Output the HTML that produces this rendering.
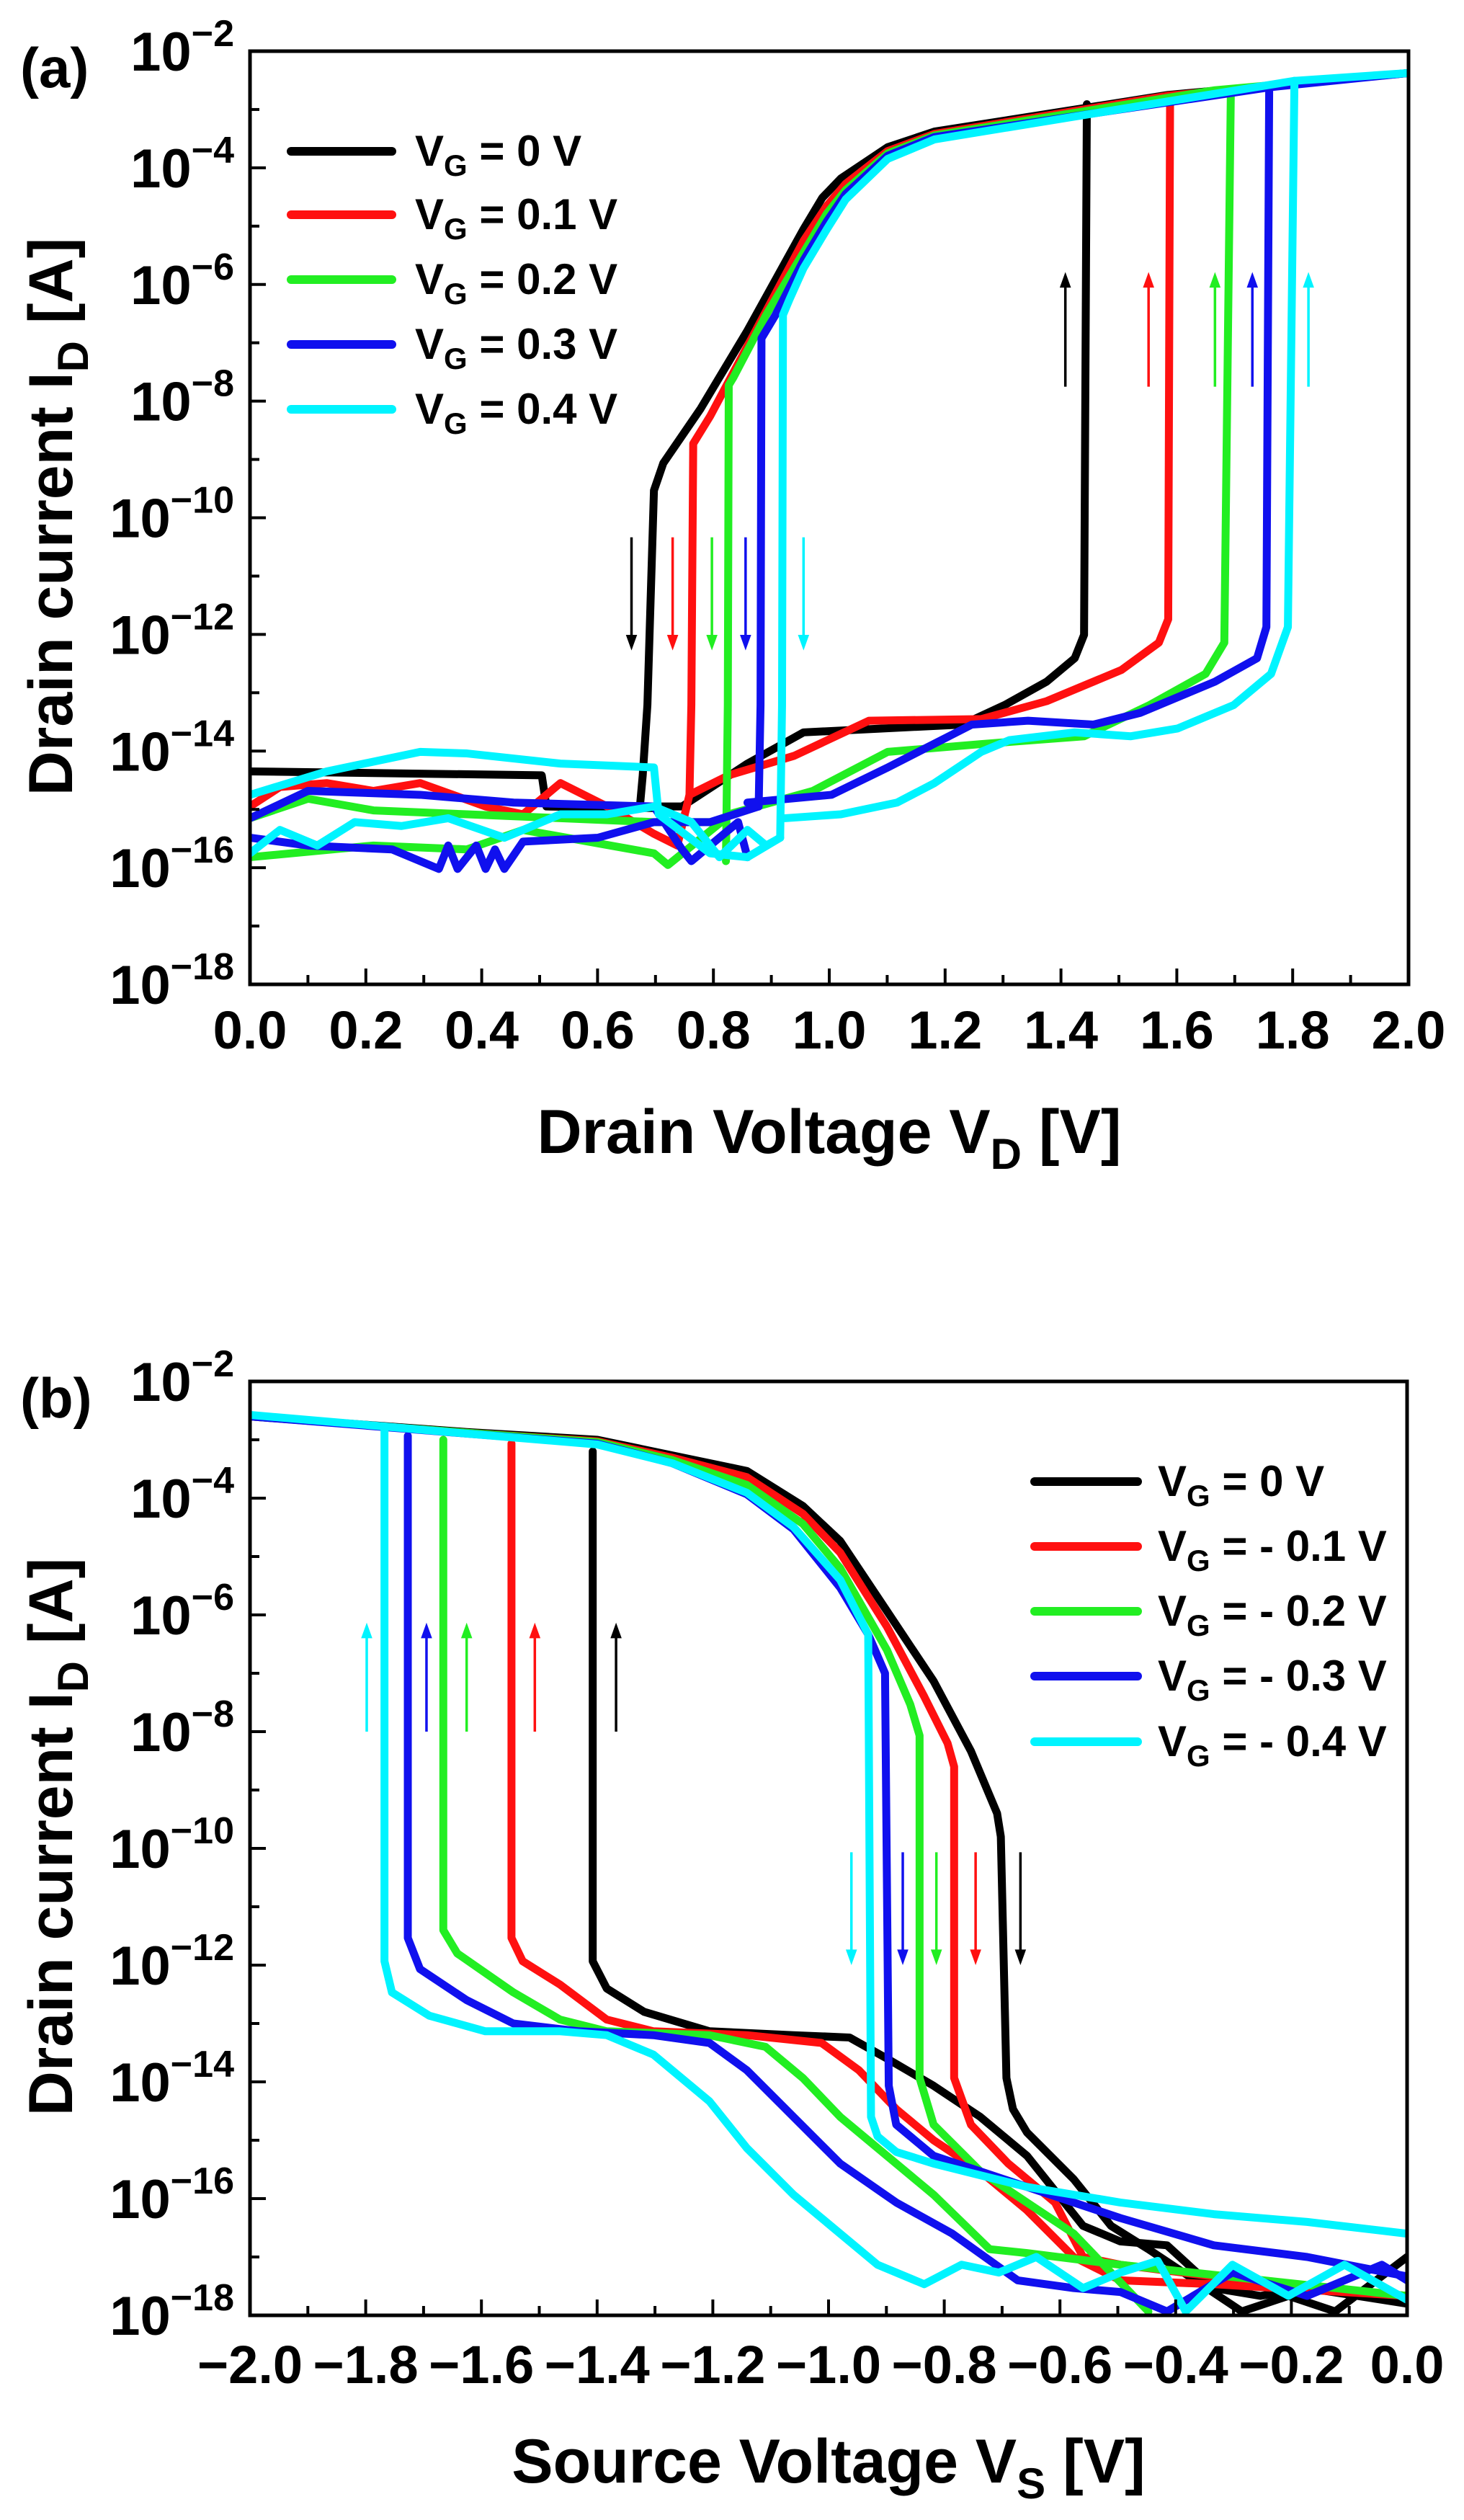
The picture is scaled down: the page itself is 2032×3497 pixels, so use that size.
<!DOCTYPE html>
<html><head><meta charset="utf-8"><style>
html,body{margin:0;padding:0;background:#fff;}
svg{display:block;font-family:"Liberation Sans",Arial,sans-serif;font-weight:bold;}
</style></head><body>
<svg id="s" width="2032" height="3497" viewBox="0 0 2032 3497" xmlns="http://www.w3.org/2000/svg">
<defs>
<clipPath id="ca"><rect x="347" y="71" width="1608" height="1295"/></clipPath>
<clipPath id="cb"><rect x="347" y="1917" width="1606" height="1296"/></clipPath>
</defs>
<g id="ga" clip-path="url(#ca)"><g id="ta" transform="translate(-0.8,3.9) scale(1.2978,1.0828)"></g></g>
<g id="gb" clip-path="url(#cb)"><g id="tb" transform="translate(-0.4,1803.6) scale(1.2962,1.08)"></g></g>
<g id="axes"></g>
</svg>
<script>
var NS="http://www.w3.org/2000/svg";
function el(p,t,a,txt){var e=document.createElementNS(NS,t);for(var k in a)e.setAttribute(k,a[k]);if(txt!==undefined)e.textContent=txt;p.appendChild(e);return e;}
var C={k:"#000",r:"#ff1010",g:"#22ee22",b:"#1010ee",c:"#00f4ff"};
function line(g,col,pts){el(g,"polyline",{points:pts,fill:"none",stroke:col,"stroke-width":11,"stroke-linejoin":"round","stroke-linecap":"round","vector-effect":"non-scaling-stroke"});}
var ta=document.getElementById("ta"),tb=document.getElementById("tb");
// panel a
var A=[
["k","1507,90 1250,118 1160,135 1000,165 950,185 900,225 880,250 860,290 800,420 750,520 710,590 700,625 693,900 688,990 685,1030"],
["k","268,985 580,990 585,1030 700,1032"],
["k","700,1030 730,1030 800,975 860,935 1030,925 1075,900 1120,870 1150,840 1160,810 1163,130"],
["r","1507,90 1250,119 1000,168 950,190 905,232 885,260 860,305 800,440 760,530 742,565 740,900 738,1015"],
["r","268,1030 300,1005 350,1000 400,1010 450,1000 520,1030 560,1040 600,1000 650,1030 700,1065 725,1080 738,1015"],
["r","738,1015 780,990 850,965 930,920 1050,918 1120,895 1200,855 1240,820 1250,790 1252,120"],
["g","1507,90 1300,112 1000,170 950,193 905,240 885,270 860,320 820,400 785,480 780,490 779,900 777,1100"],
["g","268,1095 400,1080 500,1085 560,1060 700,1090 715,1105 777,1045"],
["g","268,1045 330,1020 400,1035 500,1040 600,1045 700,1050 760,1050"],
["g","780,1040 870,1010 950,960 1050,950 1160,940 1230,900 1290,860 1310,820 1317,112"],
["b","1507,90 1360,108 1000,172 950,196 905,245 885,280 860,330 830,400 815,430 814,900 812,1030"],
["b","268,1045 330,1010 450,1015 550,1025 700,1030 730,1085 740,1100 790,1050 800,1095"],
["b","268,1070 330,1080 420,1085 470,1110 480,1080 490,1110 510,1080 520,1110 530,1085 540,1110 560,1075 640,1070 700,1050 760,1050 812,1030"],
["b","800,1025 890,1015 950,980 1040,925 1100,920 1170,925 1220,910 1300,870 1345,840 1355,800 1358,108"],
["c","1507,90 1385,100 1000,175 950,200 905,252 885,290 860,340 845,380 838,400 837,900 835,1070"],
["c","268,1015 350,985 450,960 500,962 600,975 700,980 705,1040 760,1090 800,1095 835,1070"],
["c","268,1090 300,1060 340,1080 380,1050 430,1055 480,1045 540,1070 600,1040 650,1040 700,1030 740,1050 770,1095 800,1060 820,1080 835,1070"],
["c","840,1045 900,1040 960,1025 1000,1000 1050,960 1080,945 1150,935 1210,940 1260,930 1320,900 1360,860 1378,800 1385,100"]];
A.forEach(function(a){line(ta,C[a[0]],a[1]);});
var B=[
["k","268,150 500,170 640,180 720,200 800,220 860,265 900,310 950,400 1000,490 1040,580 1068,660 1072,690 1078,1000 1085,1040 1100,1070 1150,1130 1190,1190 1230,1220 1280,1260 1330,1300 1380,1280 1430,1300 1507,1230"],
["k","635,195 635,850 650,885 690,915 760,940 850,945 910,948 950,975 1000,1010 1050,1050 1100,1100 1160,1190 1200,1210 1250,1215 1300,1270 1350,1280 1400,1270 1507,1290"],
["r","268,150 500,171 640,182 720,203 800,228 860,275 900,325 950,420 990,510 1015,570 1022,600 1022,1000 1040,1060 1080,1110 1130,1160 1160,1230 1200,1240 1300,1255 1507,1280"],
["r","548,185 548,820 560,850 600,880 650,925 700,940 800,945 880,955 920,990 960,1040 1000,1080 1050,1120 1100,1170 1150,1230 1200,1260 1300,1265 1507,1280"],
["g","268,150 500,171 640,183 720,206 800,238 860,288 900,345 950,450 975,520 985,560 985,1000 1000,1060 1050,1120 1100,1160 1150,1200 1230,1300"],
["g","475,180 475,810 490,840 550,890 600,925 650,940 760,945 820,960 860,1000 900,1050 950,1100 1000,1150 1060,1220 1100,1225 1200,1240 1507,1280"],
["b","268,150 500,172 640,185 720,210 800,250 850,295 900,370 930,430 948,480 952,1010 960,1060 1000,1100 1100,1140 1200,1180 1300,1215 1400,1230 1507,1255"],
["b","437,175 437,820 450,860 500,900 550,930 620,940 700,945 760,955 800,990 850,1050 900,1110 960,1160 1020,1200 1090,1260 1150,1270 1200,1275 1250,1300 1320,1250 1400,1280 1480,1240 1507,1260"],
["c","268,148 500,172 640,186 720,210 800,248 850,292 900,360 930,430 933,1050 940,1075 960,1095 1000,1110 1100,1140 1200,1160 1300,1175 1400,1185 1507,1200"],
["c","412,165 412,850 420,890 460,920 520,940 600,940 650,945 700,970 760,1030 800,1090 850,1150 900,1200 940,1240 990,1265 1030,1240 1070,1250 1110,1230 1160,1270 1200,1250 1240,1235 1270,1300 1320,1240 1380,1280 1440,1240 1507,1285"]];
B.forEach(function(a){line(tb,C[a[0]],a[1]);});
function arrow(g,col,x,y1,y2){el(g,"line",{x1:x,y1:y1,x2:x,y2:y2+(y2>y1?-12:12),stroke:col,"stroke-width":3.5,"vector-effect":"non-scaling-stroke"});
 var d=y2>y1?-20:20;el(g,"polygon",{points:(x-6)+","+(y2+d)+" "+(x+6)+","+(y2+d)+" "+x+","+y2,fill:col});}
[["k",676],["r",720],["g",762],["b",798],["c",860]].forEach(function(a){arrow(ta,C[a[0]],a[1],685,830);});
[["k",1140],["r",1229],["g",1300],["b",1340],["c",1400]].forEach(function(a){arrow(ta,C[a[0]],a[1],492,345);});
[["c",393],["b",457],["g",500],["r",573],["k",660]].forEach(function(a){arrow(tb,C[a[0]],a[1],555,415);});
[["c",912],["b",967],["g",1003],["r",1045],["k",1093]].forEach(function(a){arrow(tb,C[a[0]],a[1],710,855);});
var ax=document.getElementById("axes");
function panel(L,R,T,Bt,xmin,lab,tickY,title,titleSub,titleEnd,ttlY,ylblY,tag){
 el(ax,"rect",{x:L,y:T,width:R-L,height:Bt-T,fill:"none",stroke:"#000","stroke-width":5});
 var dec=(Bt-T)/16;
 for(var i=0;i<=16;i++){var y=T+i*dec;var maj=(i%2==0);
  if(i>0&&i<16)el(ax,"line",{x1:L,y1:y,x2:L+(maj?22:13),y2:y,stroke:"#000","stroke-width":4});
  if(maj){var t=el(ax,"text",{x:L-22,y:y+27,"text-anchor":"end","font-size":76});
   el(t,"tspan",{},"10");el(t,"tspan",{dy:-34,"font-size":52},"\u2212"+(2+i));}}
 var w=(R-L)/20;
 for(var j=0;j<=20;j++){var x=L+j*w;var maj=(j%2==0);
  if(j>0&&j<20)el(ax,"line",{x1:x,y1:Bt,x2:x,y2:Bt-(maj?22:13),stroke:"#000","stroke-width":4});
  if(maj){var v=xmin+j*0.1;var s=Math.abs(v).toFixed(1);if(v<-0.001)s="\u2212"+s;
   el(ax,"text",{x:x,y:tickY,"text-anchor":"middle","font-size":74},s);}}
 var t=el(ax,"text",{x:(L+R)/2,y:ttlY,"text-anchor":"middle","font-size":86});
 el(t,"tspan",{},title);el(t,"tspan",{dy:22,"font-size":60},titleSub);el(t,"tspan",{dy:-22},titleEnd);
 var cy=ylblY;var t2=el(ax,"text",{x:0,y:0,"text-anchor":"middle","font-size":86,transform:"translate(100,"+cy+") rotate(-90)"});
 el(t2,"tspan",{},"Drain current I");el(t2,"tspan",{dy:22,"font-size":60},"D");el(t2,"tspan",{dy:-22}," [A]");
 el(ax,"text",{x:28,y:T+50,"font-size":78},tag);
}
panel(347,1955,71,1366,0,0,1455,"Drain Voltage V","D"," [V]",1600,717,"(a)");
panel(347,1953,1917,3213,-2,0,3307,"Source Voltage V","S"," [V]",3445,2549,"(b)");
function legend(x1,x2,tx,ys,labs){var cols=["k","r","g","b","c"];
 for(var i=0;i<5;i++){el(ax,"line",{x1:x1,y1:ys[i],x2:x2,y2:ys[i],stroke:C[cols[i]],"stroke-width":12,"stroke-linecap":"round"});
  var t=el(ax,"text",{x:tx,y:ys[i]+20,"font-size":60});el(t,"tspan",{},"V");el(t,"tspan",{dy:14,"font-size":42},"G");el(t,"tspan",{dy:-14,"xml:space":"preserve"},labs[i]);}}
legend(404,544,576,[210,298,388,478,568],[" = 0 V"," = 0.1 V"," = 0.2 V"," = 0.3 V"," = 0.4 V"]);
legend(1436,1579,1607,[2056,2146,2236,2326,2417],[" =   0 V"," = - 0.1 V"," = - 0.2 V"," = - 0.3 V"," = - 0.4 V"]);
</script>
</body></html>
